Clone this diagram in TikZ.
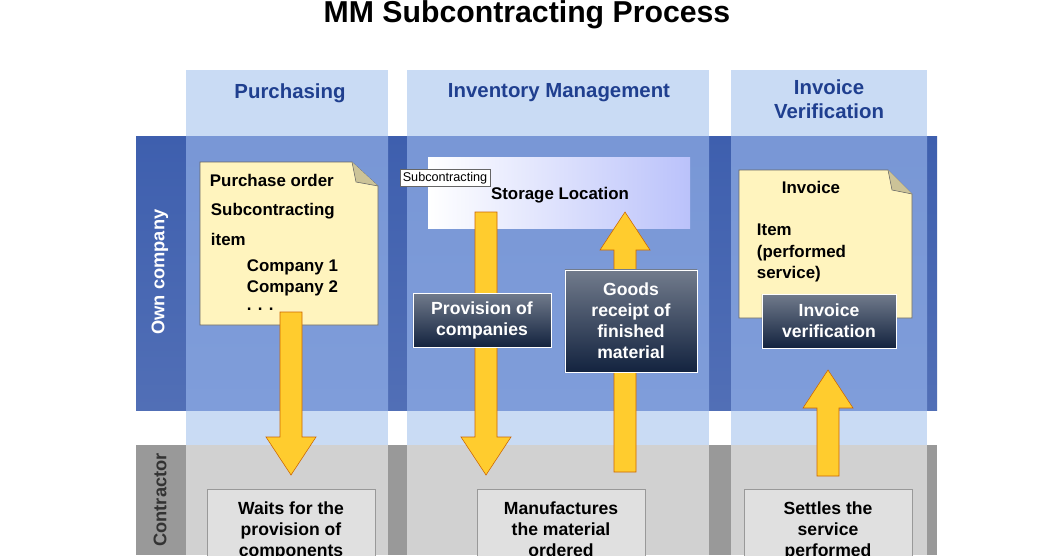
\documentclass[tikz,border=0pt]{standalone}
\usepackage{fontspec}
\setmainfont{Liberation Sans}
\usetikzlibrary{positioning,shadows}
\definecolor{colblue}{HTML}{C9DBF4}
\definecolor{bandblue}{HTML}{3E5FAE}
\definecolor{midblue}{HTML}{7F9DDA}
\definecolor{navy}{HTML}{13233F}
\definecolor{docyellow}{HTML}{FFF4BE}
\definecolor{arrowyellow}{HTML}{FFCC2E}
\definecolor{hdrblue}{HTML}{1F3F8F}
\tikzset{
  hdr/.style={font=\bfseries\fontsize{14.5}{17}\selectfont, text=hdrblue, align=center},
  doc/.style={draw=black!60, fill=docyellow},
  dark/.style={draw=white!80, top color=navy!60, bottom color=navy, text=white, font=\bfseries\fontsize{12.5}{15}\selectfont, align=center, inner sep=3pt},
  gbox/.style={draw=black!40, fill=black!12, font=\bfseries\fontsize{12.5}{15}\selectfont, align=center, anchor=north, minimum width=4.2cm, minimum height=2cm, text depth=0pt},
  fat/.style={draw=orange!80!black, fill=arrowyellow, line join=miter},
  txt/.style={font=\bfseries\fontsize{12}{15}\selectfont, anchor=west, align=left}
}
% fat arrow: x, tail y, head y, direction (+1 down, -1 up)
\newcommand\fatarrow[4]{%
  \draw[fat] (#1-11,#2) -- (#1-11,#3-#4*38) -- (#1-25,#3-#4*38) -- (#1,#3)
    -- (#1+25,#3-#4*38) -- (#1+11,#3-#4*38) -- (#1+11,#2) -- cycle;}
\begin{document}
\begin{tikzpicture}[x=0.025cm,y=-0.025cm]
\useasboundingbox (0,0) rectangle (1058,555);
\fill[white] (0,0) rectangle (1058,555);
\node[font=\bfseries\fontsize{21.5}{25}\selectfont] (title) at (527,15) {MM Subcontracting Process};
% bands
\fill[colblue] (186,70) rectangle (388,555);
\fill[colblue] (407,70) rectangle (709,555);
\fill[colblue] (731,70) rectangle (927,555);
\shade[top color=bandblue, bottom color=bandblue!90!white] (136,136) rectangle (937,410);
\foreach \a/\b in {186/388,407/709,731/927}
  \shade[top color=midblue!90!bandblue, bottom color=midblue] (\a,136) rectangle (\b,410);
\fill[black!40] (136,445) rectangle (937,555);
\foreach \a/\b in {186/388,407/709,731/927}
  \fill[black!18] (\a,445) rectangle (\b,555);
\node[hdr] (h1) at (290,93) {Purchasing};
\node[hdr] (h2) at (559,93) {Inventory Management};
\node[hdr] (h3) at (829,99) {Invoice\\Verification};
\node[rotate=90, text=white, font=\bfseries\fontsize{13}{15}\selectfont] (own) at (160,272) {Own company};
\node[rotate=90, text=black!80, font=\bfseries\fontsize{13}{15}\selectfont] (con) at (160,500) {Contractor};
% purchase order
\draw[doc] (200,162) -- (352,162) -- (378,186) -- (378,325) -- (200,325) -- cycle;
\draw[black!60, fill=docyellow!80!black] (352,162) -- (356,182) -- (378,186);
\node[txt] (po) at (205,180) {Purchase order};
\node[txt] (sci) at (206,211) {Subcontracting};
\node[txt] (it) at (206,239) {item};
\node[txt] (c1) at (242,267) {Company 1};
\node[txt] (c2) at (242,288) {Company 2};
\node[txt] (dots) at (242,309) {. . .};
% invoice
\draw[doc] (739,170) -- (888,170) -- (912,194) -- (912,318) -- (739,318) -- cycle;
\draw[black!60, fill=docyellow!80!black] (888,170) -- (892,190) -- (912,194);
\node[txt] (inv) at (777,187) {Invoice};
\node[txt] (item) at (752,253) {Item\\(performed\\service)};
% storage location
\shade[left color=white, right color=colblue!70!blue!60!white] (428,157) rectangle (690,228);
\node[font=\bfseries\fontsize{12}{15}\selectfont] (sl) at (560,195) {Storage Location};
\node[draw=black!60, fill=white, font=\fontsize{9}{11}\selectfont, inner sep=2pt] (sub) at (445,178) {Subcontracting};
% arrows
\fatarrow{291}{312}{475}{1}
\fatarrow{486}{212}{475}{1}
\fatarrow{625}{472}{212}{-1}
\fatarrow{828}{476}{370}{-1}
% dark boxes
\node[dark, minimum width=3.45cm, minimum height=1.35cm] (prov) at (482,320) {Provision of\\companies};
\node[dark, minimum width=3.3cm, minimum height=2.55cm] (gr) at (631,321) {Goods\\receipt of\\finished\\material};
\node[dark, minimum width=3.35cm, minimum height=1.35cm] (iv) at (829,321) {Invoice\\verification};
% contractor boxes
\node[gbox] (w) at (291,489) {Waits for the\\provision of\\components};
\node[gbox] (m) at (561,489) {Manufactures\\the material\\ordered};
\node[gbox] (s) at (828,489) {Settles the\\service\\performed};
\end{tikzpicture}
\end{document}
